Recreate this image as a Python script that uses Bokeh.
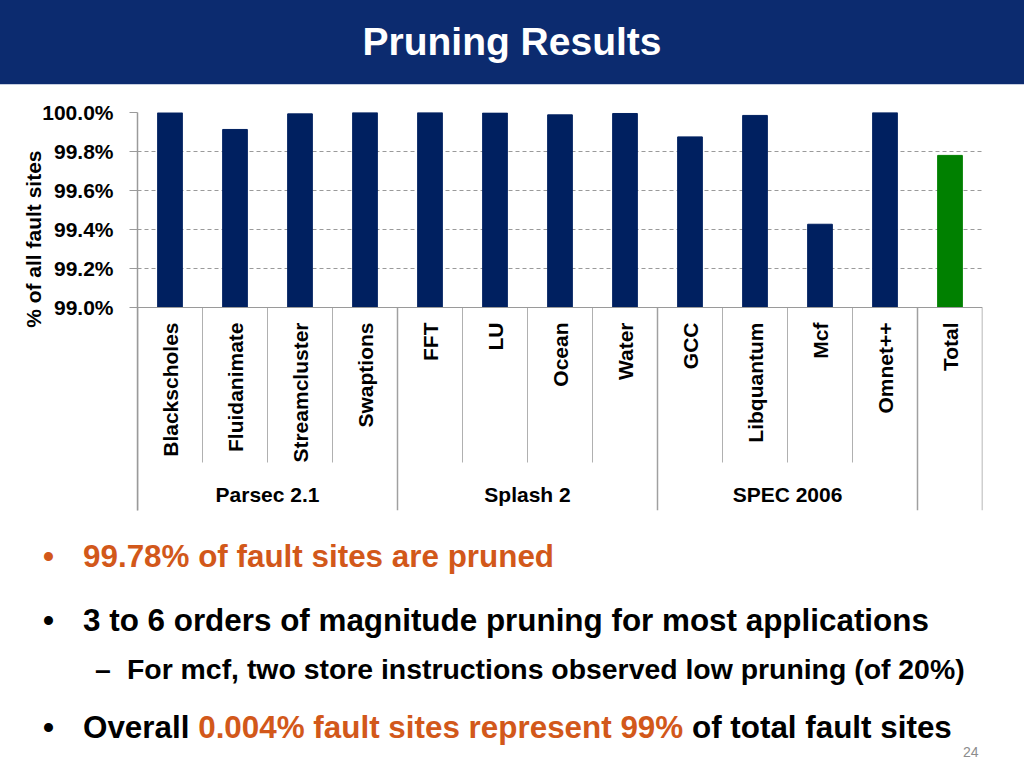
import math
from bokeh.plotting import figure
from bokeh.models import (FactorRange, Range1d, FixedTicker, PrintfTickFormatter,
                          Span, Title, Div, ColumnDataSource)
from bokeh.layouts import column
from bokeh.core.properties import value
from bokeh.embed import file_html
from bokeh.resources import INLINE

# ---------------- data ----------------
apps = ["Blackscholes", "Fluidanimate", "Streamcluster", "Swaptions",
        "FFT", "LU", "Ocean", "Water",
        "GCC", "Libquantum", "Mcf", "Omnet++",
        "Total"]
pruned_pct = [99.999, 99.913, 99.993, 100.0,
              100.0, 99.998, 99.988, 99.995,
              99.875, 99.985, 99.427, 100.0,
              99.78]
group_names = ["Parsec 2.1", "Splash 2", "SPEC 2006", ""]
group_members = [["Blackscholes", "Fluidanimate", "Streamcluster", "Swaptions"],
                 ["FFT", "LU", "Ocean", "Water"],
                 ["GCC", "Libquantum", "Mcf", "Omnet++"],
                 ["Total"]]
tick_values = [99.0, 99.2, 99.4, 99.6, 99.8, 100.0]
y_title = "% of all fault sites"
slide_title = "Pruning Results"

# ---------------- style ----------------
NAVY = "#002060"
GREEN = "#008000"
GRID = "#9a9a9a"
FONT = "Liberation Sans"
Y_MIN_SHOWN = 99.0
Y_TOP = 100.0
PX_PER_UNIT = 195.0           # pixels for 1 percentage point
FRAME_H = 398
Y_BOTTOM = Y_TOP - FRAME_H / PX_PER_UNIT   # frame extends into category label area
LABEL_Y = Y_MIN_SHOWN - 15 / PX_PER_UNIT
SEP_Y = Y_MIN_SHOWN - 155 / PX_PER_UNIT
GROUP_Y = Y_MIN_SHOWN - 187 / PX_PER_UNIT

bar_colors = [GREEN if a == "Total" else NAVY for a in apps]

p = figure(width=1024, height=444, x_range=FactorRange(factors=apps, range_padding=0),
           y_range=Range1d(Y_BOTTOM, Y_TOP), output_backend="svg", toolbar_location=None,
           x_axis_location=None, title=None,
           min_border_left=137, min_border_right=42, min_border_top=26, min_border_bottom=20)
p.outline_line_color = None
p.background_fill_color = "white"
p.border_fill_color = "white"
p.xgrid.visible = False

# y axis
ya = p.yaxis[0]
ya.ticker = FixedTicker(ticks=tick_values)
ya.formatter = PrintfTickFormatter(format="%.1f%%")
ya.axis_line_color = GRID
ya.axis_line_width = 1.5
ya.major_tick_out = 8
ya.major_tick_in = 0
ya.major_tick_line_color = GRID
ya.minor_tick_line_color = None
ya.major_label_standoff = 16
ya.major_label_text_font = FONT
ya.major_label_text_font_style = "bold"
ya.major_label_text_font_size = "21px"
ya.major_label_text_color = "black"

p.ygrid.ticker = FixedTicker(ticks=tick_values[1:])
p.ygrid.grid_line_color = GRID
p.ygrid.grid_line_dash = "4 3"
p.ygrid.grid_line_width = 1

# bars
src = ColumnDataSource(dict(x=apps, top=pruned_pct, color=bar_colors))
p.vbar(x="x", top="top", bottom=Y_MIN_SHOWN, width=0.38, source=src,
       fill_color="color", line_color="color")

# category axis line
p.add_layout(Span(location=Y_MIN_SHOWN, dimension="width", line_color=GRID, line_width=1.2))

# separators
group_starts = [(m[0], -0.5) for m in group_members] + [(group_members[-1][-1], 0.5)]
inner = [(a, -0.5) for m in group_members for a in m[1:]]
p.segment(x0=inner, x1=inner, y0=Y_MIN_SHOWN, y1=SEP_Y, line_color="#b0b0b0", line_width=1)
p.segment(x0=group_starts, x1=group_starts, y0=Y_MIN_SHOWN, y1=Y_BOTTOM,
          line_color="#a0a0a0", line_width=1.5)

# category labels
p.text(x=apps, y=LABEL_Y, text=apps, angle=math.pi / 2, text_align="right",
       text_baseline="middle", text_font=value(FONT), text_font_style="bold",
       text_font_size="21px", text_color="black")

# group labels
gx = [(m[0], (len(m) - 1) / 2) for m in group_members]
p.text(x=gx, y=GROUP_Y, text=group_names, text_align="center", text_baseline="middle",
       text_font=value(FONT), text_font_style="bold", text_font_size="21px",
       text_color="black")

# y axis title (left side panel, placed beside the 99-100 % span)
p.add_layout(Title(text=y_title, align="right", offset=38, standoff=-10,
                   text_font=FONT, text_font_style="bold", text_font_size="21px",
                   text_color="black"), "left")

banner = Div(text=(
    '<div style="width:1024px;height:85px;background:#0c2b6f;color:white;'
    'font-family:\'Liberation Sans\',Arial,sans-serif;font-weight:bold;font-size:39px;'
    'display:flex;align-items:center;justify-content:center;'
    'border-bottom:1px solid #c5cde0;">' + slide_title + '</div>'),
    width=1024, height=86, margin=0)

ORANGE = "#d2581a"
bul_style = "position:absolute;white-space:nowrap;"
bullets_html = (
    '<div style="position:relative;width:1024px;height:238px;'
    'font-family:\'Liberation Sans\',Arial,sans-serif;font-weight:bold;color:#000;">'
    f'<div style="{bul_style}left:43px;top:9px;font-size:31.4px;line-height:36px;color:{ORANGE};">&#8226;</div>'
    f'<div style="{bul_style}left:83px;top:9px;font-size:31.4px;line-height:36px;color:{ORANGE};">99.78% of fault sites are pruned</div>'
    f'<div style="{bul_style}left:43px;top:73px;font-size:31.4px;line-height:36px;">&#8226;</div>'
    f'<div style="{bul_style}left:83px;top:73px;font-size:31.4px;line-height:36px;">3 to 6 orders of magnitude pruning for most applications</div>'
    f'<div style="{bul_style}left:95px;top:123px;font-size:28.4px;line-height:32px;">&#8211;</div>'
    f'<div style="{bul_style}left:127px;top:123px;font-size:28.4px;line-height:32px;">For mcf, two store instructions observed low pruning (of 20%)</div>'
    f'<div style="{bul_style}left:43px;top:180px;font-size:31.4px;line-height:36px;">&#8226;</div>'
    f'<div style="{bul_style}left:83px;top:180px;font-size:31.4px;line-height:36px;">Overall '
    f'<span style="color:{ORANGE};">0.004% fault sites represent 99%</span> of total fault sites</div>'
    f'<div style="{bul_style}left:963px;top:214px;font-size:14px;line-height:16px;font-weight:normal;color:#8c8c8c;">24</div>'
    '</div>')
bullets = Div(text=bullets_html, width=1024, height=238, margin=0)

layout = column(banner, p, bullets, spacing=0)
open("out.html", "w").write(file_html(layout, INLINE))
